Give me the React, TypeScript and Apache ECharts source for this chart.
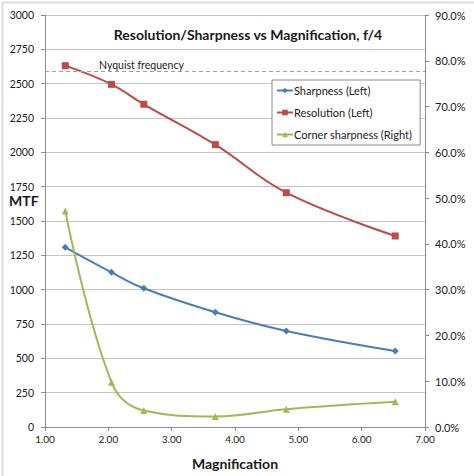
import React, { useEffect, useRef } from "react";
import * as echarts from "echarts";

const magnification = [1.32, 2.05, 2.56, 3.69, 4.81, 6.53];
const sharpness = [1308, 1126, 1010, 835, 699, 553];
const resolution = [2631, 2495, 2350, 2056, 1706, 1391];
const cornerSharpness = [47.2, 9.8, 3.6, 2.3, 3.9, 5.5];
const nyquist = 2592;

const FONT = "Lato";
const TEXT = "#1a1a1a";
const AXIS = "#8c8c8c";
const GRIDLINE = "#c4c4c4";

const pairs = (ys: number[]) => magnification.map((x, i) => [x, ys[i]]);

export default function App() {
  const ref = useRef<HTMLDivElement>(null);

  useEffect(() => {
    if (!ref.current) return;
    const chart = echarts.init(ref.current, undefined, { renderer: "svg" });
    chart.setOption({
      animation: false,
      backgroundColor: "#ffffff",
      textStyle: { fontFamily: FONT },
      title: {
        text: "Resolution/Sharpness vs Magnification, f/4",
        left: 243,
        textAlign: "center",
        top: 22,
        textStyle: { fontFamily: FONT, fontSize: 14, fontWeight: "bold", color: TEXT },
      },
      legend: {
        orient: "vertical",
        left: 272,
        top: 80,
        width: 143,
        padding: [5, 8, 5, 4],
        itemGap: 11,
        itemWidth: 16,
        itemHeight: 7,
        backgroundColor: "#ffffff",
        borderColor: "#8a8a8a",
        borderWidth: 1,
        textStyle: { fontFamily: FONT, fontSize: 11, color: TEXT, padding: [0, 0, 0, -4] },
        data: ["Sharpness (Left)", "Resolution (Left)", "Corner sharpness (Right)"],
      },
      grid: { left: 45, right: 49, top: 15, bottom: 49 },
      xAxis: {
        type: "value",
        min: 1,
        max: 7,
        interval: 1,
        name: "Magnification",
        nameLocation: "middle",
        nameGap: 29,
        nameTextStyle: { fontFamily: FONT, fontSize: 14, fontWeight: "bold", color: TEXT },
        axisLine: { show: true, lineStyle: { color: AXIS } },
        axisTick: { show: true, length: 4, lineStyle: { color: AXIS } },
        axisLabel: {
          color: TEXT,
          fontSize: 10,
          fontFamily: FONT,
          margin: 7,
          formatter: (v: number) => v.toFixed(2),
        },
        splitLine: { show: false },
      },
      yAxis: [
        {
          type: "value",
          min: 0,
          max: 3000,
          interval: 250,
          axisLine: { show: true, lineStyle: { color: AXIS } },
          axisTick: { show: true, length: 4, lineStyle: { color: AXIS } },
          axisLabel: {
            color: TEXT,
            fontSize: 10.5,
            fontFamily: FONT,
            margin: 11,
            formatter: (v: number) => String(v),
          },
          splitLine: { show: true, lineStyle: { color: GRIDLINE, width: 1 } },
        },
        {
          type: "value",
          min: 0,
          max: 90,
          interval: 10,
          position: "right",
          axisLine: { show: true, lineStyle: { color: AXIS } },
          axisTick: { show: true, length: 4, lineStyle: { color: AXIS } },
          axisLabel: {
            color: TEXT,
            fontSize: 11,
            fontFamily: FONT,
            margin: 10,
            formatter: (v: number) => v.toFixed(1) + "%",
          },
          splitLine: { show: false },
        },
      ],
      graphic: [
        {
          type: "text",
          left: 9,
          top: 193,
          style: { text: "MTF", fontFamily: FONT, fontSize: 14, fontWeight: "bold", fill: TEXT },
        },
        {
          type: "rect",
          left: 0,
          top: 0,
          shape: { width: 473, height: 475 },
          style: { fill: "none", stroke: "#dcdcdc", lineWidth: 2 },
          silent: true,
          z: 100,
        },
      ],
      series: [
        {
          name: "Sharpness (Left)",
          type: "line",
          yAxisIndex: 0,
          data: pairs(sharpness),
          smooth: 0.4,
          symbol: "diamond",
          symbolSize: 7,
          itemStyle: { color: "#4a7ebb" },
          lineStyle: { color: "#4a7ebb", width: 2 },
          z: 3,
        },
        {
          name: "Resolution (Left)",
          type: "line",
          yAxisIndex: 0,
          data: pairs(resolution),
          smooth: 0.4,
          symbol: "rect",
          symbolSize: 7,
          itemStyle: { color: "#be4b48" },
          lineStyle: { color: "#be4b48", width: 2 },
          z: 3,
          markLine: {
            silent: true,
            symbol: "none",
            lineStyle: { color: "#a0a0a0", type: [4, 3], width: 1 },
            label: {
              show: true,
              position: "insideStartTop",
              formatter: "Nyquist frequency",
              fontFamily: FONT,
              fontSize: 10.5,
              color: TEXT,
              padding: [0, 0, 0, 53],
              distance: 1,
            },
            data: [{ yAxis: nyquist }],
          },
        },
        {
          name: "Corner sharpness (Right)",
          type: "line",
          yAxisIndex: 1,
          data: pairs(cornerSharpness),
          smooth: 0.4,
          symbol: "triangle",
          symbolSize: 7,
          itemStyle: { color: "#9bbb59" },
          lineStyle: { color: "#9bbb59", width: 2 },
          z: 3,
        },
      ],
    });
    return () => chart.dispose();
  }, []);

  return (
    <div
      ref={ref}
      style={{ position: "absolute", left: 0, top: 0, width: 474, height: 476 }}
    />
  );
}
